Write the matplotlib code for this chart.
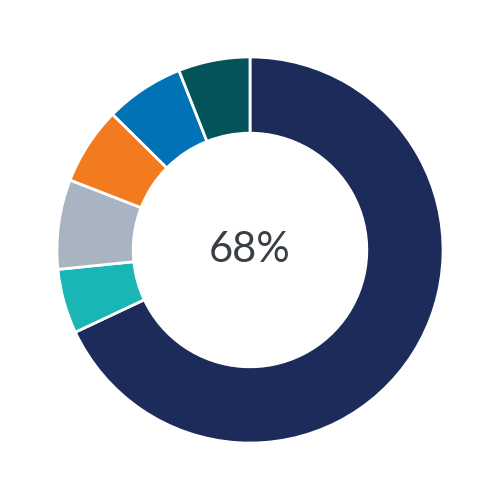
import matplotlib.pyplot as plt

labels = ["Navy", "Teal", "Gray", "Orange", "Blue", "Dark teal"]
values = [68, 5.4, 7.5, 6.5, 6.6, 6.0]
colors = ["#1c2b5a", "#1ab5b5", "#a9b4c2", "#f27b20", "#0072b5", "#02545a"]
center_text = "68%"

fig = plt.figure(figsize=(5, 5), dpi=100)
ax = fig.add_axes([0, 0, 1, 1])
ax.pie(values, colors=colors, startangle=90, counterclock=False,
       radius=1, wedgeprops=dict(width=0.395, edgecolor="white", linewidth=2))
ax.text(0, 0, center_text, ha="center", va="center", fontsize=30,
        color="#3a3f45", family=["Lato", "DejaVu Sans"])
ax.set_xlim(-1.295, 1.295)
ax.set_ylim(-1.295, 1.295)
ax.set_aspect("equal")
ax.axis("off")
fig.savefig("out.png", dpi=100, facecolor="white")
